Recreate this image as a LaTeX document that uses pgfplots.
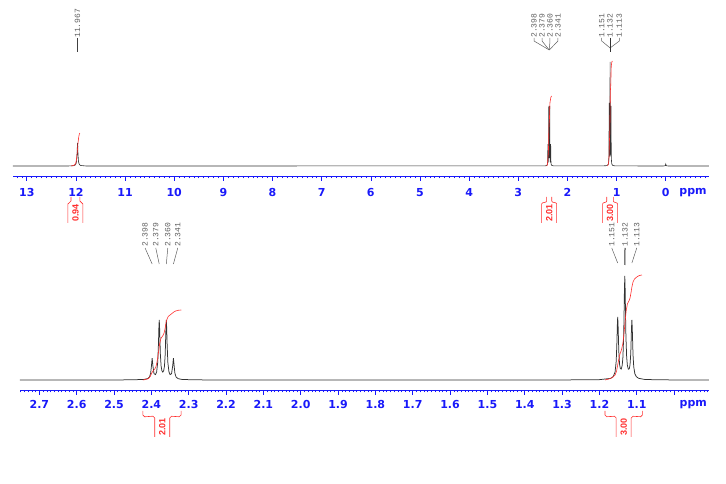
\documentclass[border=0pt]{standalone}
\usepackage{pgfplots}
\pgfplotsset{compat=1.18}
\usepackage{pgfplotstable}
\usepackage{fontspec}
\setmainfont{DejaVu Sans}
\newfontfamily\labfont{Liberation Mono}
\newfontfamily\intfont{Liberation Sans}
\definecolor{tickblue}{RGB}{25,25,250}
\definecolor{intred}{RGB}{255,45,45}
\definecolor{specgray}{RGB}{50,50,50}
\definecolor{labgray}{RGB}{95,95,95}

\pgfplotstableread{
ppm int
-0.88 0
-0.05 0
-0.01 0.3
0.0 2
0.01 0.3
0.05 0
1.00 0.08
1.05 0.22
1.08 0.63
1.095 1.7
1.101 3.3
1.105 6.2
1.108 13.0
1.110 25.4
1.112 51.9
1.113 60.2
1.114 52.3
1.116 26.6
1.118 15.1
1.120 11.2
1.1225 10.8
1.125 14.5
1.127 22.8
1.129 44.0
1.130 64.4
1.131 90.0
1.132 104.0
1.133 90.0
1.134 64.4
1.135 44.1
1.137 22.9
1.139 14.6
1.1415 11.0
1.144 11.5
1.146 15.7
1.148 27.8
1.150 55.0
1.151 63.2
1.152 54.6
1.153 39.0
1.155 18.7
1.158 8.1
1.163 3.4
1.17 1.6
1.20 0.35
1.30 0.05
2.239 0.06
2.289 0.18
2.319 0.61
2.329 1.41
2.334 3.1
2.337 6.7
2.339 13.7
2.341 21.9
2.343 14.1
2.346 6.3
2.350 5.4
2.353 8.1
2.356 17.8
2.358 37.2
2.359 51.9
2.360 60.2
2.361 52.1
2.363 25.9
2.365 13.9
2.367 9.4
2.3695 7.9
2.372 9.4
2.374 13.9
2.376 25.9
2.378 52.1
2.379 60.2
2.380 51.9
2.381 37.2
2.383 17.8
2.386 8.1
2.389 5.4
2.393 6.3
2.396 14.1
2.398 21.9
2.400 13.7
2.402 6.7
2.405 3.1
2.41 1.41
2.42 0.61
2.45 0.18
2.50 0.06
11.80 0.03
11.90 0.5
11.917 0.9
11.937 2.3
11.947 4.6
11.957 11.5
11.962 18.4
11.967 23
11.972 18.4
11.977 11.5
11.987 4.6
11.997 2.3
12.017 0.9
12.05 0.3
12.15 0.03
13.28 0
}\spec

\pgfplotstableread{
ppm int
12.10 0
12.05 0.5
12.02 1.5
12.00 3.5
11.99 6
11.98 10
11.972 14
11.967 17
11.962 20
11.955 24
11.945 28
11.935 31
11.925 32.5
11.92 33
}\intA

\pgfplotstableread{
ppm int
2.423 0
2.415 0.5
2.408 1.5
2.403 3.5
2.399 7
2.395 9.5
2.391 11
2.388 13
2.385 18
2.382 25
2.380 30
2.378 36
2.375 41
2.372 43
2.369 44.5
2.366 47
2.363 52
2.361 57
2.358 61
2.355 63.5
2.350 65
2.345 66.5
2.340 68
2.335 69
2.328 69.7
2.320 70
}\intB

\pgfplotstableread{
ppm int
1.185 0
1.175 1
1.165 2.5
1.158 5
1.154 9
1.151 15
1.148 21
1.145 26
1.141 30
1.137 37
1.134 47
1.132 55
1.130 63
1.128 70
1.125 76
1.121 79
1.118 82
1.115 88
1.113 93
1.110 98
1.106 101
1.100 103
1.093 104.5
1.086 105
}\intC

\newcommand{\intbr}[4]{%
 \draw[intred, line width=0.6pt] (axis cs:#1,-31) -- (axis cs:#1,-35) to[out=-90,in=90] ([xshift=-7.5pt]axis cs:#3,-38) -- ([xshift=-7.5pt]axis cs:#3,-57);
 \draw[intred, line width=0.6pt] (axis cs:#2,-31) -- (axis cs:#2,-35) to[out=-90,in=90] ([xshift=7.5pt]axis cs:#3,-38) -- ([xshift=7.5pt]axis cs:#3,-57);
 \node[rotate=90, text=intred, font=\intfont\bfseries\fontsize{9}{9}\selectfont, inner sep=0pt] at (axis cs:#3,-47) {#4};
}

\tikzset{
 lab/.style={rotate=90, anchor=west, inner sep=0pt, font=\labfont\fontsize{8}{8}\selectfont, text=labgray},
 labline/.style={labgray, line width=0.5pt},
 ppmlab/.style={anchor=base, inner sep=0pt, font=\fontsize{11}{11}\selectfont\bfseries, text=tickblue},
}
\pgfplotsset{
 nmr/.style={
  scale only axis,
  axis x line*=bottom,
  axis y line=none,
  x dir=reverse,
  clip mode=individual,
  tick align=outside,
  x axis line style={tickblue, line width=0.9pt},
  every tick/.style={tickblue, line width=0.6pt},
  major tick length=5pt,
  minor tick length=2.5pt,
  xticklabel style={font=\fontsize{11}{11}\selectfont\bfseries, text=tickblue, anchor=base, inner sep=0pt},
  /pgf/number format/assume math mode=true,
 },
}

\begin{document}
\begin{tikzpicture}
\useasboundingbox (0,0) rectangle (726pt,484pt);
% top panel
\begin{axis}[nmr, at={(13pt,308pt)}, anchor=south west, width=696pt, height=171pt,
  xmin=-0.88, xmax=13.28, ymin=-10, ymax=161,
  xtick={0,1,2,3,4,5,6,7,8,9,10,11,12,13},
  xticklabels={0,1,2,3,4,5,6,7,8,9,10,11,12,13},
  xticklabel style={yshift=-15.5pt},
  minor xtick={-0.8,-0.7,...,13.25}]
\addplot[specgray, line width=0.6pt] table[x=ppm,y=int] {\spec};
\addplot[intred, line width=0.6pt] table[x=ppm,y=int] {\intA};
\addplot[intred, line width=0.6pt] table[x=ppm,y=int] {\intB};
\addplot[intred, line width=0.6pt] table[x=ppm,y=int] {\intC};
\node[ppmlab] at (axis cs:-0.555,-28.5) {ppm};
\node[lab] at (axis cs:11.967,128) {11.967};
\draw[labline, line width=0.9pt, black!75] (axis cs:11.967,128) -- (axis cs:11.967,114);
\node[lab] at (axis cs:2.680,128) {2.398};
\node[lab] at (axis cs:2.517,128) {2.379};
\node[lab] at (axis cs:2.355,128) {2.360};
\node[lab] at (axis cs:2.192,128) {2.341};
\draw[labline] (axis cs:2.680,128) -- (axis cs:2.680,125) -- (axis cs:2.37,116);
\draw[labline] (axis cs:2.517,128) -- (axis cs:2.517,125) -- (axis cs:2.37,116);
\draw[labline] (axis cs:2.355,128) -- (axis cs:2.355,125) -- (axis cs:2.37,116);
\draw[labline] (axis cs:2.192,128) -- (axis cs:2.192,125) -- (axis cs:2.37,116);
\node[lab] at (axis cs:1.302,128) {1.151};
\node[lab] at (axis cs:1.133,128) {1.132};
\node[lab] at (axis cs:0.944,128) {1.113};
\draw[labline] (axis cs:1.302,128) -- (axis cs:1.302,125) -- (axis cs:1.132,118);
\draw[labline] (axis cs:0.944,128) -- (axis cs:0.944,125) -- (axis cs:1.132,118);
\draw[labline, line width=1pt, black!80] (axis cs:1.132,128) -- (axis cs:1.132,114);
\intbr{12.10}{11.92}{12.01}{0.94}
\intbr{2.423}{2.32}{2.3715}{2.01}
\intbr{1.20}{1.066}{1.133}{3.00}
\end{axis}
% bottom panel
\begin{axis}[nmr, at={(20pt,94pt)}, anchor=south west, width=689pt, height=168pt,
  xmin=0.9065, xmax=2.752, ymin=-10, ymax=158,
  xtick={1.0,1.1,1.2,1.3,1.4,1.5,1.6,1.7,1.8,1.9,2.0,2.1,2.2,2.3,2.4,2.5,2.6,2.7},
  xticklabels={,1.1,1.2,1.3,1.4,1.5,1.6,1.7,1.8,1.9,2.0,2.1,2.2,2.3,2.4,2.5,2.6,2.7},
  xticklabel style={yshift=-14pt},
  minor xtick={0.91,0.92,...,2.751}]
\addplot[specgray, line width=0.75pt] table[x=ppm,y=int] {\spec};
\addplot[intred, line width=0.6pt] table[x=ppm,y=int] {\intB};
\addplot[intred, line width=0.6pt] table[x=ppm,y=int] {\intC};
\node[ppmlab] at (axis cs:0.9485,-27) {ppm};
\node[lab] at (axis cs:2.4169,133) {2.398};
\node[lab] at (axis cs:2.3883,133) {2.379};
\node[lab] at (axis cs:2.3561,133) {2.360};
\node[lab] at (axis cs:2.3294,133) {2.341};
\draw[labline] (axis cs:2.4169,132) -- (axis cs:2.398,116);
\draw[labline] (axis cs:2.3883,132) -- (axis cs:2.379,116);
\draw[labline] (axis cs:2.3561,132) -- (axis cs:2.360,116);
\draw[labline] (axis cs:2.3294,132) -- (axis cs:2.341,116);
\node[lab] at (axis cs:1.167,133) {1.151};
\node[lab] at (axis cs:1.1314,133) {1.132};
\node[lab] at (axis cs:1.100,133) {1.113};
\draw[labline] (axis cs:1.167,132) -- (axis cs:1.151,117);
\draw[labline, line width=1pt, black!80] (axis cs:1.1314,132) -- (axis cs:1.132,115);
\draw[labline] (axis cs:1.100,132) -- (axis cs:1.113,117);
\intbr{2.423}{2.3205}{2.371}{2.01}
\intbr{1.185}{1.085}{1.135}{3.00}
\end{axis}
\end{tikzpicture}
\end{document}
